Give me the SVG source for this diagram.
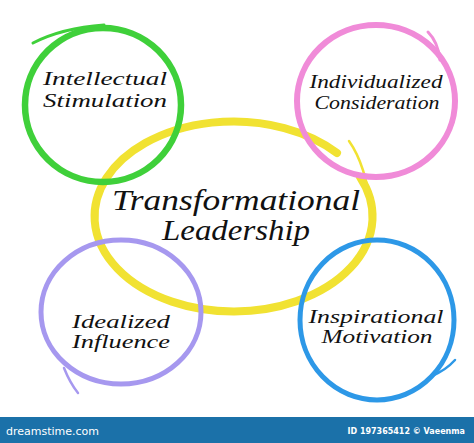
<svg xmlns="http://www.w3.org/2000/svg" width="474" height="443" viewBox="0 0 474 443">
<style>
.ring{fill:none;stroke-linecap:round}
.tail{fill:none;stroke-linecap:round}
.lbl{font-family:"Liberation Serif","DejaVu Serif",serif;font-style:italic;fill:#111;text-anchor:middle}
.s{font-size:19px}
.b{font-size:30px}
.wm{font-family:"DejaVu Sans","Liberation Sans",sans-serif;fill:#ffffff}
</style>
<rect width="474" height="443" fill="#ffffff"/>
<g id="connectors"></g>
<g id="transformational-leadership">
<path class="ring" d="M360 177 A139 95 0 1 1 337 153" stroke="#f1e232" stroke-width="8"/>
<path class="tail" d="M349 141 Q366 165 371 210" stroke="#f1e232" stroke-width="2.5"/>
<text class="lbl b" x="236" y="210" textLength="248" lengthAdjust="spacingAndGlyphs">Transformational</text>
<text class="lbl b" x="236" y="240" textLength="148" lengthAdjust="spacingAndGlyphs">Leadership</text>
</g>
<g id="intellectual-stimulation">
<ellipse class="ring" cx="103" cy="105" rx="78" ry="77" stroke="#3fd03a" stroke-width="6.5"/>
<path class="tail" d="M33 43 Q62 28 104 25" stroke="#3fd03a" stroke-width="3"/>
<text class="lbl s" x="105" y="85" textLength="124" lengthAdjust="spacingAndGlyphs">Intellectual</text>
<text class="lbl s" x="105" y="107" textLength="124" lengthAdjust="spacingAndGlyphs">Stimulation</text>
</g>
<g id="individualized-consideration">
<ellipse class="ring" cx="376" cy="101" rx="79" ry="76" stroke="#f08bd8" stroke-width="6"/>
<path class="tail" d="M428 32 Q438 42 440 60" stroke="#f08bd8" stroke-width="3"/>
<text class="lbl s" x="376" y="88" textLength="133" lengthAdjust="spacingAndGlyphs">Individualized</text>
<text class="lbl s" x="377" y="109" textLength="125" lengthAdjust="spacingAndGlyphs">Consideration</text>
</g>
<g id="idealized-influence">
<ellipse class="ring" cx="121" cy="312" rx="80" ry="72" stroke="#a698ef" stroke-width="5"/>
<path class="tail" d="M64 368 Q70 383 78 393" stroke="#a698ef" stroke-width="2.5"/>
<text class="lbl s" x="121" y="328" textLength="98" lengthAdjust="spacingAndGlyphs">Idealized</text>
<text class="lbl s" x="121" y="348" textLength="98" lengthAdjust="spacingAndGlyphs">Influence</text>
</g>
<g id="inspirational-motivation">
<ellipse class="ring" cx="377" cy="320" rx="77" ry="80" stroke="#2d98e7" stroke-width="5"/>
<path class="tail" d="M432 376 Q446 370 455 360" stroke="#2d98e7" stroke-width="2.5"/>
<text class="lbl s" x="376" y="323" textLength="135" lengthAdjust="spacingAndGlyphs">Inspirational</text>
<text class="lbl s" x="377" y="343" textLength="111" lengthAdjust="spacingAndGlyphs">Motivation</text>
</g>
<rect x="0" y="417" width="474" height="26" fill="#1b71a9"/>
<text class="wm" x="6" y="435" font-size="11">dreamstime.com</text>
<text class="wm" x="465" y="434" font-size="8" font-weight="bold" text-anchor="end">ID 197365412 © Vaeenma</text>
</svg>
